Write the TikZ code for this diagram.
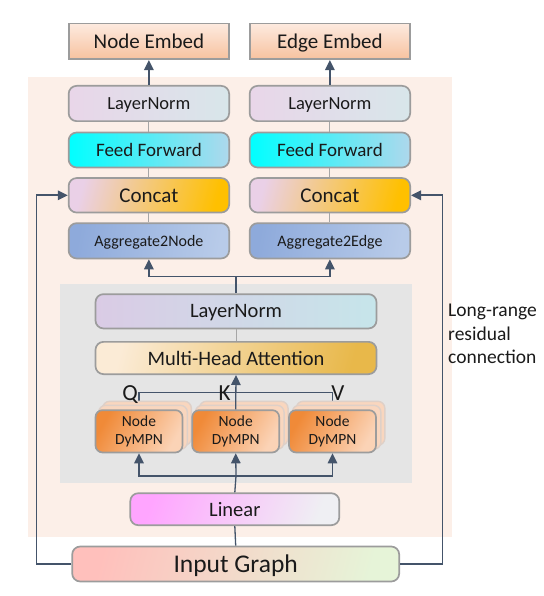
\documentclass[tikz,border=0pt]{standalone}
\usepackage{fontspec}
\setmainfont{Carlito}
\usetikzlibrary{arrows.meta,calc}
\definecolor{bordc}{HTML}{9C9C9C}
\definecolor{txt}{HTML}{1A1A1A}
\definecolor{linec}{HTML}{44546A}
\definecolor{thinc}{HTML}{A6A6A6}
\definecolor{peachbg}{HTML}{FCEFE8}
\definecolor{graybg}{HTML}{E5E5E5}
\definecolor{embT}{HTML}{FDEADF}
\definecolor{embB}{HTML}{F7C29F}
\definecolor{lnL}{HTML}{E9D6E9}
\definecolor{lnR}{HTML}{D8E6EA}
\definecolor{ffL}{HTML}{00FFFF}
\definecolor{ffR}{HTML}{AED8EC}
\definecolor{ccL}{HTML}{EAD0E7}
\definecolor{ccM}{HTML}{F0BDB3}
\definecolor{ccR}{HTML}{FFC000}
\definecolor{agL}{HTML}{8EAADB}
\definecolor{agR}{HTML}{B8CBE9}
\definecolor{glL}{HTML}{DACBE5}
\definecolor{glR}{HTML}{C6E5EA}
\definecolor{mhL}{HTML}{FBEBD6}
\definecolor{mhR}{HTML}{E8B84A}
\definecolor{dyL}{HTML}{F08A38}
\definecolor{dyR}{HTML}{FBD3B6}
\definecolor{shdF}{HTML}{F9D6BE}
\definecolor{shdD}{HTML}{DED0C8}
\definecolor{liL}{HTML}{FFA5FF}
\definecolor{liR}{HTML}{EFEFF3}
\definecolor{igL}{HTML}{FFC0BC}
\definecolor{igR}{HTML}{E6F4D8}
\pgfdeclarelayer{back}
\pgfdeclarelayer{mid}
\pgfsetlayers{back,mid,main}
\tikzset{
  blk/.style={draw=bordc, line width=1.7pt, rounded corners=8pt, inner sep=0pt, text=txt, align=center},
  sqbox/.style={draw=bordc, line width=1.7pt, inner sep=0pt, text=txt},
  arr/.style={draw=linec, line width=1.3pt, -{Triangle[width=9.5pt,length=10pt]}},
  dln/.style={draw=linec, line width=1.3pt},
  tln/.style={draw=thinc, line width=1pt},
  res/.style={draw=linec, line width=1.8pt, -{Triangle[width=9.5pt,length=10pt]}},
  shd/.style={fill=shdF, draw=shdD, line width=1.4pt, rounded corners=7pt},
  colw/.style={minimum width=160.5pt},
  fs/.style={font=\fontsize{#1}{#1}\selectfont, text depth=0pt},
  fm/.style={font=\fontsize{#1}{#1}\selectfont},
}
\begin{document}
\begin{tikzpicture}[x=1pt,y=-1pt]
\useasboundingbox (0,0) rectangle (543,596);
\begin{pgfonlayer}{back}
  \fill[peachbg] (28.2,76.7) rectangle (452,536.7);
  \fill[graybg] (60.2,284) rectangle (411.5,483.3);
\end{pgfonlayer}

% top embeds
\node[sqbox, colw, top color=embT, bottom color=embB, minimum height=35.6pt, fs=21] (NE) at (148.9,41.4) {Node Embed};
\node[sqbox, colw, top color=embT, bottom color=embB, minimum height=35.6pt, fs=21] (EE) at (329.9,41.4) {Edge Embed};

% node column
\node[blk, colw, left color=lnL, right color=lnR, minimum height=35.3pt, fs=18.5] (LN1) at (148.9,103.5) {LayerNorm};
\node[blk, colw, left color=ffL, right color=ffR, minimum height=35pt, fs=19] (FF1) at (148.9,150) {Feed Forward};
\node[blk, colw, left color=ccL, middle color=ccM, right color=ccR, shading angle=75, minimum height=34.5pt, fs=21] (CC1) at (148.9,195.3) {Concat};
\node[blk, colw, left color=agL, right color=agR, shading angle=80, minimum height=35.3pt, fs=16] (AG1) at (148.9,240.8) {Aggregate2Node};
% edge column
\node[blk, colw, left color=lnL, right color=lnR, minimum height=35.3pt, fs=18.5] (LN2) at (329.9,103.5) {LayerNorm};
\node[blk, colw, left color=ffL, right color=ffR, minimum height=35pt, fs=19] (FF2) at (329.9,150) {Feed Forward};
\node[blk, colw, left color=ccL, middle color=ccM, right color=ccR, shading angle=75, minimum height=34.5pt, fs=21] (CC2) at (329.9,195.3) {Concat};
\node[blk, colw, left color=agL, right color=agR, shading angle=80, minimum height=35.3pt, fs=16] (AG2) at (329.9,240.8) {Aggregate2Edge};

% attention block
\node[blk, minimum width=281pt, left color=glL, right color=glR, minimum height=34.3pt, fs=20.5] (GLN) at (236,311.3) {LayerNorm};
\node[blk, minimum width=281pt, left color=mhL, right color=mhR, shading angle=75, minimum height=32.3pt, fs=20.5] (MHA) at (236,358) {Multi-Head Attention};

\node[blk, rounded corners=7pt, minimum width=87pt, minimum height=42.3pt, left color=dyL, right color=dyR, shading angle=60, fm=15.5] (N1) at (139,431.3) {Node\\[2.5pt]DyMPN};
\node[blk, rounded corners=7pt, minimum width=87pt, minimum height=42.3pt, left color=dyL, right color=dyR, shading angle=60, fm=15.5] (N2) at (235.7,431.3) {Node\\[2.5pt]DyMPN};
\node[blk, rounded corners=7pt, minimum width=87pt, minimum height=42.3pt, left color=dyL, right color=dyR, shading angle=60, fm=15.5] (N3) at (332.5,431.3) {Node\\[2.5pt]DyMPN};

\node[blk, minimum width=209pt, minimum height=32pt, left color=liL, right color=liR, shading angle=70, fs=20.5] (LIN) at (234.8,509.2) {Linear};
\node[blk, minimum width=327pt, minimum height=35pt, left color=igL, right color=igR, shading angle=75, fs=25.5] (IG) at (235.7,564) {Input Graph};

% Q K V labels
\node[text=txt, inner sep=0pt, fs=23] (Q) at (130,393) {Q};
\node[text=txt, inner sep=0pt, fs=23] (K) at (224.7,393) {K};
\node[text=txt, inner sep=0pt, fs=23] (V) at (338,393) {V};

% long-range label
\node[text=txt, inner sep=0pt, anchor=north west, align=left, font=\fontsize{19.5}{23.3}\selectfont] (LR) at (448,304) {Long-range\\residual\\connection};

% shadows and QKV lines
\begin{pgfonlayer}{mid}
  \coordinate (qk) at (0,392.3);
  \draw[dln] (N1.north) -- (N1.north |- qk) -- (N3.north |- qk) -- (N3.north);
  \foreach \n in {N1,N2,N3}{
    \draw[shd] ($(\n.south west)+(8,-8)$) rectangle ($(\n.north east)+(8,-8)$);
    \draw[shd] ($(\n.south west)+(4,-4)$) rectangle ($(\n.north east)+(4,-4)$);
  }
\end{pgfonlayer}

% connectors
\draw[arr] (N2.north) -- (MHA.south);
\draw[tln] (MHA.north) -- (GLN.south);
\coordinate (br) at (236,276.7);
\draw[dln] (GLN.north) -- (br);
\draw[arr] (br) -| (AG1.south);
\draw[arr] (br) -| (AG2.south);
\draw[tln] (AG1.north) -- (CC1.south);
\draw[tln] (CC1.north) -- (FF1.south);
\draw[tln] (FF1.north) -- (LN1.south);
\draw[tln] (AG2.north) -- (CC2.south);
\draw[tln] (CC2.north) -- (FF2.south);
\draw[tln] (FF2.north) -- (LN2.south);
\draw[arr] (LN1.north) -- (NE.south);
\draw[arr] (LN2.north) -- (EE.south);

\coordinate (lb) at (236,476);
\draw[dln] (LIN.north) -- (lb);
\draw[arr] (lb) -| (N1.south);
\draw[arr] (lb) -| (N3.south);
\draw[arr] (lb) -- (N2.south);
\draw[dln] (IG.north) -- (LIN.south);

\draw[res] (IG.west) -| (36.5,195.3) -- (CC1.west);
\draw[res] (IG.east) -| (442.4,195.3) -- (CC2.east);
\end{tikzpicture}
\end{document}
